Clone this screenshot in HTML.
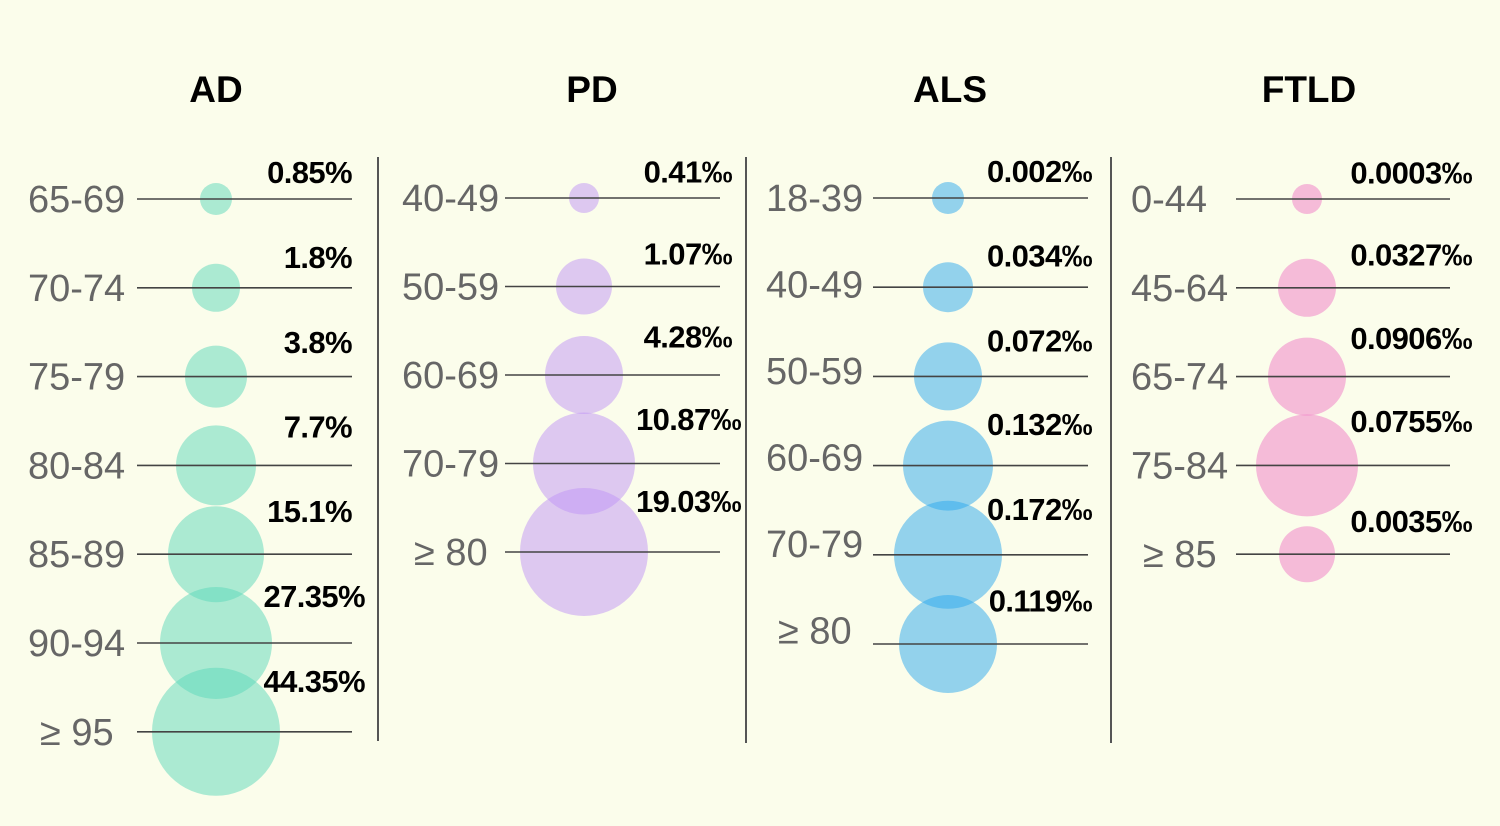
<!DOCTYPE html>
<html><head><meta charset="utf-8"><style>
html,body{margin:0;padding:0;background:#fbfdeb;}
svg{display:block;}
text{font-family:"Liberation Sans",Arial,sans-serif;}
</style></head><body>
<svg id="chart" width="1500" height="826" viewBox="0 0 1500 826" xmlns="http://www.w3.org/2000/svg">
<rect x="0" y="0" width="1500" height="826" fill="#fbfdeb"/>
<line x1="378" y1="157" x2="378" y2="741" stroke="#555" stroke-width="2"/>
<line x1="746" y1="157" x2="746" y2="743" stroke="#555" stroke-width="2"/>
<line x1="1111" y1="157" x2="1111" y2="743" stroke="#555" stroke-width="2"/>
<g id="panels"></g>
</svg>
<script>
const diseases = ["AD", "PD", "ALS", "FTLD"];
const adAges = ["65-69","70-74","75-79","80-84","85-89","90-94","\u2265 95"];
const adLabels = ["0.85%","1.8%","3.8%","7.7%","15.1%","27.35%","44.35%"];
const adValues = [0.85,1.8,3.8,7.7,15.1,27.35,44.35];
const adBubble = [16,24,31,40,48,56,64];
const pdAges = ["40-49","50-59","60-69","70-79","\u2265 80"];
const pdLabels = ["0.41\u2030","1.07\u2030","4.28\u2030","10.87\u2030","19.03\u2030"];
const pdValues = [0.41,1.07,4.28,10.87,19.03];
const pdBubble = [15,28,39,51,64];
const alsAges = ["18-39","40-49","50-59","60-69","70-79","\u2265 80"];
const alsLabels = ["0.002\u2030","0.034\u2030","0.072\u2030","0.132\u2030","0.172\u2030","0.119\u2030"];
const alsValues = [0.002,0.034,0.072,0.132,0.172,0.119];
const alsBubble = [16,25,34,45,54,49];
const ftldAges = ["0-44","45-64","65-74","75-84","\u2265 85"];
const ftldLabels = ["0.0003\u2030","0.0327\u2030","0.0906\u2030","0.0755\u2030","0.0035\u2030"];
const ftldValues = [0.0003,0.0327,0.0906,0.0755,0.0035];
const ftldBubble = [15,29,39,51,28];

const NS = "http://www.w3.org/2000/svg";
const layout = [
  {cx:216, lx1:137, lx2:352, ageLeft:28, titleX:216, y0:199, step:88.8, ageStep:88.8, vr:352, vrLong:365, fill:"#5bd7b9"},
  {cx:584, lx1:505, lx2:720, ageLeft:402, titleX:592, y0:198, step:88.5, ageStep:88.5, vr:732, vrLong:741, fill:"#c093f5"},
  {cx:948, lx1:873, lx2:1088, ageLeft:766, titleX:950, y0:198, step:89.2, ageStep:86.5, vr:1092, vrLong:1092, fill:"#2ba7ed"},
  {cx:1307, lx1:1236, lx2:1450, ageLeft:1131, titleX:1309, y0:199, step:88.8, ageStep:88.8, vr:1472, vrLong:1472, fill:"#ef79c5"}
];
const data = [
  [adAges, adLabels, adValues, adBubble],
  [pdAges, pdLabels, pdValues, pdBubble],
  [alsAges, alsLabels, alsValues, alsBubble],
  [ftldAges, ftldLabels, ftldValues, ftldBubble]
];
function yScale(p, i){ return layout[p].y0 + i*layout[p].step; }
function mk(tag, attrs){ const e=document.createElementNS(NS,tag); for(const k in attrs) e.setAttribute(k, attrs[k]); return e; }
const root = document.getElementById("panels");
diseases.forEach((d,p)=>{
  const L = layout[p];
  const [ages, labels, values, bubble] = data[p];
  const g = mk("g",{});
  
  
  const t = mk("text",{x:L.titleX, y:102, "text-anchor":"middle", "font-size":"37", "font-weight":"bold", fill:"#000"});
  t.textContent = d;
  
  
  g.appendChild(t);
  ages.forEach((a,i)=>{
    const y = yScale(p,i);
    const line = mk("line",{x1:L.lx1, y1:y, x2:L.lx2, y2:y, stroke:"#444", "stroke-width":"1.6"});
    
    
    g.appendChild(line);
    const ay = L.y0 + i*L.ageStep;
    const indent = a.charAt(0) === "\u2265" ? 12 : 0;
    const at = mk("text",{x:L.ageLeft + indent, y:ay+13, "text-anchor":"start", "font-size":"38", fill:"#666"});
    at.textContent = a;
    
    
    g.appendChild(at);
  });
  ages.forEach((a,i)=>{
    const y = yScale(p,i);
    const r = bubble[i];
    const c = mk("circle",{cx:L.cx, cy:y, r:r, fill:L.fill, "fill-opacity":"0.5"});
    
    
    c.setAttribute('data-value', values[i]);
    g.insertBefore(c, g.children[1]);
  });
  ages.forEach((a,i)=>{
    const y = yScale(p,i);
    const r = bubble[i];
    const lab = labels[i];
    const right = lab.replace(/[%\u2030]/,'').length > 4 ? L.vrLong : L.vr;
    const off = 27 + (r-16)*0.5;
    const vt = mk("text",{x:right, y:y-off+11, "text-anchor":"end", "font-size":"31", "font-weight":"bold", fill:"#000", "letter-spacing":"-0.6"});
    vt.textContent = lab;
    
    
    g.appendChild(vt);
  });
  root.appendChild(g);
});
</script>
</body></html>
